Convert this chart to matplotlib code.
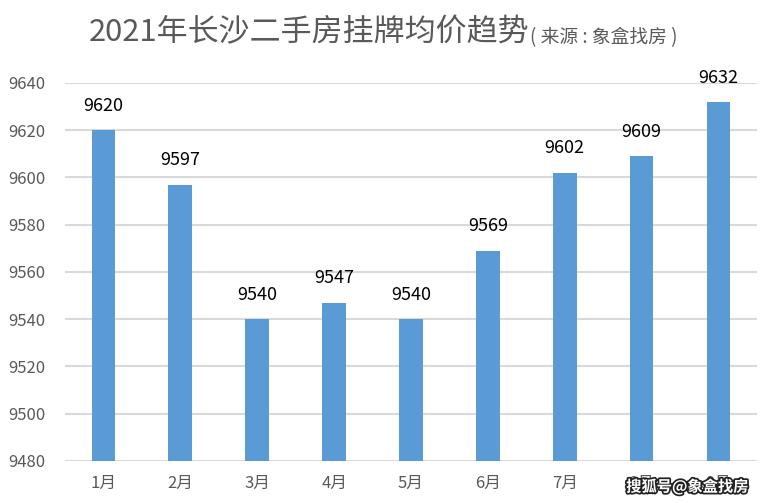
import matplotlib.pyplot as plt
import matplotlib.patheffects as pe

plt.rcParams['font.family'] = ['Noto Sans CJK SC', 'DejaVu Sans']

months = ['1月', '2月', '3月', '4月', '5月', '6月', '7月', '8月', '9月']
prices = [9620, 9597, 9540, 9547, 9540, 9569, 9602, 9609, 9632]
yticks = [9480, 9500, 9520, 9540, 9560, 9580, 9600, 9620, 9640]

fig = plt.figure(figsize=(7.62, 5.03), dpi=100)
ax = fig.add_axes([0.0853, 0.0835, 0.908, 0.7515])

x = range(len(months))
ax.bar(x, prices, width=0.31, color='#5b9bd5', zorder=3)
for i, v in enumerate(prices):
    ax.text(i, v + 6.5, str(v), ha='center', va='bottom', fontsize=13, color='black')

ax.set_ylim(9480, 9640)
ax.set_xlim(-0.5, len(months) - 0.5)
ax.set_yticks(yticks)
ax.set_xticks(list(x))
ax.set_xticklabels(months)
ax.tick_params(axis='both', length=0, labelsize=12, colors='#595959')
ax.tick_params(axis='x', pad=10)
ax.tick_params(axis='y', pad=14)
ax.grid(axis='y', color='#d9d9d9', linewidth=1.5, zorder=0)
for s in ax.spines.values():
    s.set_visible(False)

fig.text(0.117, 0.934, '2021年长沙二手房挂牌均价趋势', fontsize=22.3, color='#595959',
         va='center', ha='left')
fig.text(0.695, 0.926, '( 来源 : 象盒找房 )', fontsize=13.5, color='#595959',
         va='center', ha='left')

fig.text(0.982, 0.032, '搜狐号@象盒找房', fontsize=11, color='white', fontweight='bold',
         ha='right', va='center',
         path_effects=[pe.withStroke(linewidth=2.5, foreground='#222222')])

fig.savefig('out.png', dpi=100)
